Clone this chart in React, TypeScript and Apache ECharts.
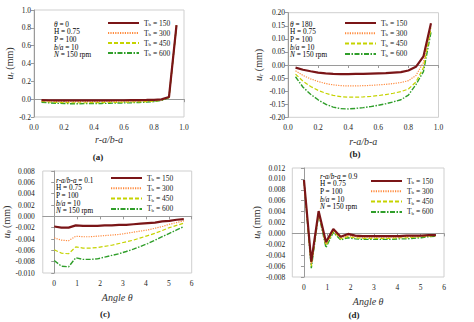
import React, { useEffect, useRef } from "react";
import * as echarts from "echarts";

const radialX = [0.05, 0.1, 0.15, 0.2, 0.25, 0.3, 0.35, 0.4, 0.45, 0.5, 0.55, 0.6, 0.65, 0.7, 0.75, 0.8, 0.85, 0.9, 0.95];
const angleX = [0, 0.314, 0.628, 0.942, 1.257, 1.571, 1.885, 2.199, 2.513, 2.827, 3.142, 3.456, 3.77, 4.084, 4.398, 4.712, 5.027, 5.341, 5.655];
const angleTicks = [0, 1, 2, 3, 4, 5, 6];
const tempNames = ["150", "300", "450", "600"];

const urA150 = [-0.010, -0.012, -0.013, -0.014, -0.014, -0.014, -0.014, -0.013, -0.013, -0.013, -0.012, -0.012, -0.011, -0.010, -0.009, -0.007, -0.002, 0.025, 0.830];
const urA300 = [-0.018, -0.022, -0.025, -0.027, -0.028, -0.028, -0.027, -0.027, -0.026, -0.025, -0.024, -0.023, -0.022, -0.020, -0.018, -0.014, -0.006, 0.022, 0.828];
const urA450 = [-0.026, -0.032, -0.036, -0.039, -0.040, -0.040, -0.040, -0.039, -0.038, -0.037, -0.035, -0.034, -0.032, -0.030, -0.027, -0.021, -0.010, 0.020, 0.826];
const urA600 = [-0.034, -0.041, -0.046, -0.049, -0.051, -0.051, -0.050, -0.049, -0.048, -0.046, -0.044, -0.042, -0.040, -0.037, -0.033, -0.027, -0.014, 0.018, 0.824];

const urB150 = [-0.010, -0.018, -0.024, -0.029, -0.032, -0.034, -0.035, -0.035, -0.034, -0.034, -0.033, -0.032, -0.031, -0.029, -0.027, -0.021, -0.007, 0.033, 0.160];
const urB300 = [-0.022, -0.040, -0.053, -0.063, -0.071, -0.076, -0.079, -0.080, -0.080, -0.079, -0.078, -0.076, -0.074, -0.071, -0.067, -0.060, -0.040, 0.010, 0.150];
const urB450 = [-0.035, -0.062, -0.082, -0.097, -0.108, -0.116, -0.121, -0.123, -0.123, -0.122, -0.120, -0.117, -0.113, -0.108, -0.102, -0.092, -0.065, -0.010, 0.140];
const urB600 = [-0.045, -0.085, -0.112, -0.133, -0.150, -0.161, -0.167, -0.168, -0.166, -0.163, -0.159, -0.154, -0.148, -0.141, -0.133, -0.115, -0.075, -0.025, 0.125];

const utC150 = [-0.0018, -0.0020, -0.0020, -0.0016, -0.0017, -0.0017, -0.0017, -0.0016, -0.0016, -0.0015, -0.0015, -0.0014, -0.0013, -0.0012, -0.0011, -0.0009, -0.0008, -0.0006, -0.0005];
const utC300 = [-0.0038, -0.0042, -0.0043, -0.0035, -0.0036, -0.0036, -0.0035, -0.0034, -0.0033, -0.0032, -0.0030, -0.0028, -0.0026, -0.0024, -0.0021, -0.0018, -0.0014, -0.0011, -0.0008];
const utC450 = [-0.0059, -0.0065, -0.0066, -0.0054, -0.0056, -0.0056, -0.0055, -0.0053, -0.0051, -0.0048, -0.0045, -0.0042, -0.0038, -0.0034, -0.0030, -0.0025, -0.0020, -0.0016, -0.0012];
const utC600 = [-0.0078, -0.0088, -0.0089, -0.0073, -0.0076, -0.0076, -0.0075, -0.0072, -0.0069, -0.0066, -0.0062, -0.0058, -0.0053, -0.0048, -0.0042, -0.0036, -0.0030, -0.0024, -0.0018];

const utD150 = [0.0098, -0.0052, 0.0041, -0.0016, 0.0008, -0.0006, -0.0001, -0.0004, -0.0005, -0.0005, -0.0005, -0.0005, -0.0005, -0.0005, -0.0004, -0.0004, -0.0004, -0.0003, -0.0003];
const utD300 = [0.0097, -0.0056, 0.0039, -0.0019, 0.0006, -0.0008, -0.0004, -0.0006, -0.0007, -0.0007, -0.0007, -0.0007, -0.0007, -0.0007, -0.0006, -0.0006, -0.0005, -0.0004, -0.0004];
const utD450 = [0.0097, -0.0060, 0.0038, -0.0022, 0.0004, -0.0010, -0.0006, -0.0008, -0.0009, -0.0009, -0.0009, -0.0009, -0.0009, -0.0008, -0.0008, -0.0007, -0.0006, -0.0005, -0.0004];
const utD600 = [0.0096, -0.0064, 0.0036, -0.0026, 0.0002, -0.0012, -0.0008, -0.0010, -0.0011, -0.0011, -0.0011, -0.0011, -0.0011, -0.0010, -0.0010, -0.0009, -0.0008, -0.0006, -0.0005];

const annotA = ["{i|θ}{n| = 0}", "{n|H = 0.75}", "{n|P = 100}", "{i|b/a}{n| = 10}", "{i|N}{n| = 150 rpm}"];
const annotB = ["{i|θ}{n| = 180}", "{n|H = 0.75}", "{n|P = 100}", "{i|b/a}{n| = 10}", "{i|N}{n| = 150 rpm}"];
const annotC = ["{i|r-a/b-a}{n| = 0.1}", "{n|H = 0.75}", "{n|P = 100}", "{i|b/a}{n| = 10}", "{i|N}{n| = 150 rpm}"];
const annotD = ["{i|r-a/b-a}{n| = 0.9}", "{n|H = 0.75}", "{n|P = 100}", "{i|b/a}{n| = 10}", "{i|N}{n| = 150 rpm}"];

const SERIF = "Liberation Serif";
const styles = [
  { color: "#7a1517", width: 2.2, type: "solid" as any },
  { color: "#ff8a3d", width: 1.2, type: [1.2, 1.2] as any },
  { color: "#c5d300", width: 1.2, type: [4, 2] as any },
  { color: "#2f9e2a", width: 1.4, type: [5, 1.5, 1.5, 1.5] as any },
];

export default function App() {
  const ref = useRef<HTMLDivElement>(null);
  useEffect(() => {
    if (!ref.current) return;
    const chart = echarts.init(ref.current, undefined, { renderer: "svg" });

    const grids = [
      { left: 34, top: 10, width: 150, height: 107 },
      { left: 288, top: 12.7, width: 150.5, height: 104.6 },
      { left: 42.5, top: 171, width: 149.2, height: 102 },
      { left: 292.3, top: 168, width: 151.7, height: 109 },
    ].map((g) => ({ ...g, show: true, borderColor: "#cfcfcf", borderWidth: 1, backgroundColor: "transparent" }));

    const fmt = (d: number) => (v: number) => (Math.abs(v) < 1e-9 ? 0 : v).toFixed(d);
    const axisCommon = {
      axisLine: { show: true, lineStyle: { color: "#9a9a9a", width: 1 } },
      axisTick: { show: true, length: 3, lineStyle: { color: "#9a9a9a" } },
      splitLine: { show: false },
      axisLabel: { fontFamily: SERIF, fontSize: 7.5, color: "#222", margin: 4 },
      nameLocation: "middle" as const,
    };
    const xName = (text: string) => ({
      name: text,
      nameTextStyle: { fontFamily: SERIF, fontStyle: "italic", fontSize: 10, color: "#333" },
    });
    const yNameRich = {
      i: { fontFamily: SERIF, fontStyle: "italic", fontSize: 10, color: "#333" },
      s: { fontFamily: SERIF, fontStyle: "italic", fontSize: 6, color: "#333", padding: [5, 0, 0, 0] },
      n: { fontFamily: SERIF, fontSize: 10, color: "#333" },
    };

    const xAxis = [
      { ...axisCommon, type: "value", gridIndex: 0, min: 0, max: 1, interval: 0.2, axisLabel: { ...axisCommon.axisLabel, margin: 6, formatter: fmt(1) }, ...xName("r-a/b-a"), nameGap: 17 },
      { ...axisCommon, type: "value", gridIndex: 1, min: 0, max: 1, interval: 0.2, axisLabel: { ...axisCommon.axisLabel, margin: 6, formatter: fmt(1) }, ...xName("r-a/b-a"), nameGap: 19 },
      { ...axisCommon, type: "value", gridIndex: 2, min: -0.5, max: 6, axisTick: { ...axisCommon.axisTick, customValues: angleTicks }, axisLabel: { ...axisCommon.axisLabel, margin: 6, customValues: angleTicks, formatter: fmt(0) }, ...xName("Angle θ"), nameGap: 19 },
      { ...axisCommon, type: "value", gridIndex: 3, min: -0.5, max: 6, axisTick: { ...axisCommon.axisTick, customValues: angleTicks }, axisLabel: { ...axisCommon.axisLabel, margin: 6, customValues: angleTicks, formatter: fmt(0) }, ...xName("Angle θ"), nameGap: 19 },
    ];
    const yAxis = [
      { ...axisCommon, type: "value", gridIndex: 0, min: -0.2, max: 1.0, interval: 0.2, axisLabel: { ...axisCommon.axisLabel, margin: 3, formatter: fmt(1) }, name: "{i|u}{s|r}{n| (mm)}", nameRotate: 90, nameGap: 18, nameTextStyle: { rich: yNameRich } },
      { ...axisCommon, type: "value", gridIndex: 1, min: -0.2, max: 0.2, interval: 0.05, axisLabel: { ...axisCommon.axisLabel, margin: 3, formatter: fmt(2) }, name: "{i|u}{s|r}{n| (mm)}", nameRotate: 90, nameGap: 24, nameTextStyle: { rich: yNameRich } },
      { ...axisCommon, type: "value", gridIndex: 2, min: -0.01, max: 0.008, interval: 0.002, axisLabel: { ...axisCommon.axisLabel, margin: 8, formatter: fmt(3) }, name: "{i|u}{s|θ}{n| (mm)}", nameRotate: 90, nameGap: 30, nameTextStyle: { rich: yNameRich } },
      { ...axisCommon, type: "value", gridIndex: 3, min: -0.008, max: 0.012, interval: 0.002, axisLabel: { ...axisCommon.axisLabel, margin: 7, formatter: fmt(3) }, name: "{i|u}{s|θ}{n| (mm)}", nameRotate: 90, nameGap: 30, nameTextStyle: { rich: yNameRich } },
    ];

    const panels = [
      { xs: radialX, ys: [urA150, urA300, urA450, urA600] },
      { xs: radialX, ys: [urB150, urB300, urB450, urB600] },
      { xs: angleX, ys: [utC150, utC300, utC450, utC600] },
      { xs: angleX, ys: [utD150, utD300, utD450, utD600] },
    ];
    const series: any[] = [];
    panels.forEach((p, pi) => {
      p.ys.forEach((ys, si) => {
        series.push({
          type: "line",
          name: tempNames[si],
          xAxisIndex: pi,
          yAxisIndex: pi,
          symbol: "none",
          showSymbol: false,
          lineStyle: styles[si],
          itemStyle: { color: styles[si].color },
          data: p.xs.map((x, k) => [x, ys[k]]),
          z: 10 - si,
        });
      });
    });

    const legendPos = [
      { left: 107, top: 19, gap: 2 },
      { left: 344, top: 19, gap: 2.3 },
      { left: 110, top: 174, gap: 2.3 },
      { left: 370, top: 177, gap: 2.3 },
    ];
    const legend = legendPos.map((lp) => ({
      left: lp.left,
      top: lp.top,
      orient: "vertical",
      data: tempNames,
      itemWidth: 31,
      itemHeight: 8,
      itemGap: lp.gap,
      padding: 0,
      selectedMode: false,
      itemStyle: { opacity: 0 },
      formatter: (name: string) => `{t|T}{s|b}{t| = ${name}}`,
      textStyle: {
        rich: {
          t: { fontFamily: SERIF, fontSize: 7.5, lineHeight: 8, color: "#222" },
          s: { fontFamily: SERIF, fontSize: 5, lineHeight: 5, verticalAlign: "bottom", color: "#222" },
        },
      },
    }));

    const annotRich = {
      n: { fontFamily: SERIF, fontSize: 7.3, color: "#222" },
      i: { fontFamily: SERIF, fontSize: 7.3, fontStyle: "italic", color: "#222" },
    };
    const annots = [
      { lines: annotA, x: 54, y: 24 },
      { lines: annotB, x: 290, y: 24 },
      { lines: annotC, x: 56, y: 180 },
      { lines: annotD, x: 320, y: 176 },
    ];
    const graphic: any[] = [];
    annots.forEach((a) => {
      a.lines.forEach((ln, k) => {
        graphic.push({
          type: "text",
          x: a.x,
          y: a.y + k * 7.7,
          style: { text: ln, rich: annotRich, verticalAlign: "middle", align: "left" },
        });
      });
    });
    const captions = [
      { t: "(a)", x: 98, y: 157 },
      { t: "(b)", x: 355, y: 154 },
      { t: "(c)", x: 105, y: 314 },
      { t: "(d)", x: 354, y: 315 },
    ];
    captions.forEach((c) =>
      graphic.push({
        type: "text",
        x: c.x,
        y: c.y,
        style: { text: c.t, fontFamily: SERIF, fontSize: 9, fontWeight: "bold", fill: "#222", align: "center", verticalAlign: "middle" },
      })
    );

    chart.setOption({
      animation: false,
      backgroundColor: "#ffffff",
      grid: grids,
      xAxis,
      yAxis,
      legend,
      series,
      graphic,
    } as any);
    return () => chart.dispose();
  }, []);
  return <div ref={ref} style={{ position: "fixed", left: 0, top: 0, width: 474, height: 322 }} />;
}
